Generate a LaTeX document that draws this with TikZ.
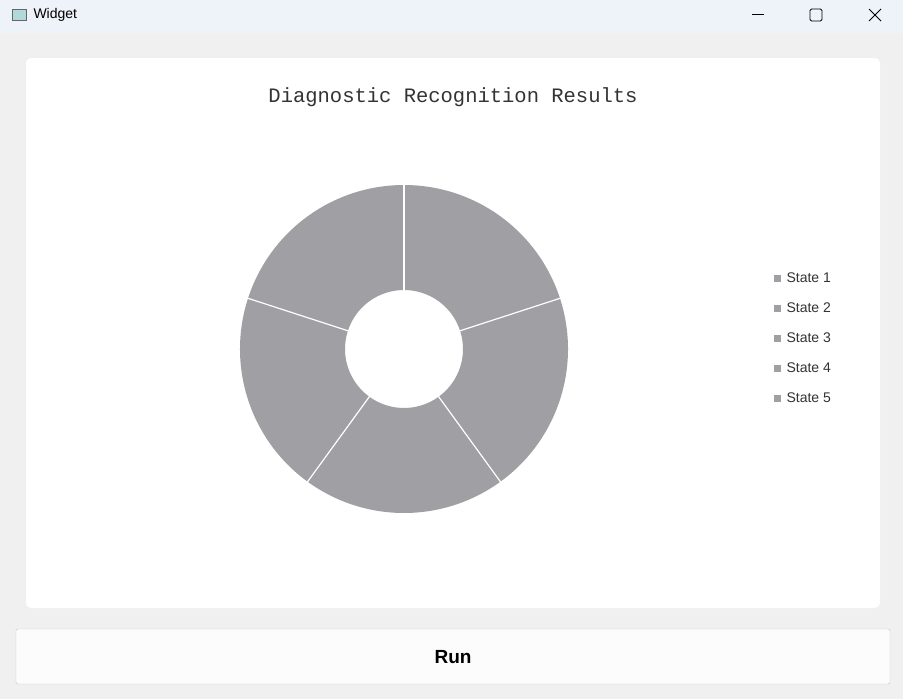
\documentclass[tikz,border=0pt]{standalone}
\usepackage{fontspec}
\setmainfont{Liberation Sans}
\newfontfamily\titlefont{Liberation Mono}
\begin{document}
\begin{tikzpicture}[x=1pt,y=-1pt,
  slice/.style={fill=pieg,draw=white,line width=1.2pt},
  leg/.style={fill=pieg,minimum size=7pt,inner sep=0pt},
  legtxt/.style={anchor=west,font=\fontsize{14}{16}\selectfont,text=black!80}]
\definecolor{pieg}{HTML}{A09FA3}
\definecolor{winbg}{HTML}{F0F0F0}
\definecolor{tbar}{HTML}{EEF2F9}
\useasboundingbox (0,0) rectangle (903,699);
\fill[winbg] (0,0) rectangle (903,699);
\fill[tbar] (0,0) rectangle (903,33);
\node[draw=black!60,fill=teal!30,minimum width=14pt,minimum height=11pt,inner sep=0pt] (icon) at (19,15) {};
\node[anchor=west,font=\fontsize{14}{16}\selectfont] (wt) at (30,15) {Widget};
\draw[line width=0.8pt] (752,14) -- (764,14);
\draw[line width=0.8pt,rounded corners=1.5pt] (810,9) rectangle (822,21);
\draw[line width=0.8pt] (869,9) -- (881,21) (869,21) -- (881,9);
\fill[white,rounded corners=5pt] (26,58) rectangle (880,608);
\node[font=\titlefont\fontsize{20.5}{24}\selectfont,text=black!80] (title) at (453,97) {Diagnostic Recognition Results};
\coordinate (c) at (404,349);
\foreach \a/\b in {90/18,18/-54,-54/-126,-126/-198,-198/-270}{
  \fill[pieg] ([shift={(\a:164 and -164)}]c) arc[start angle=\a,end angle=\b,x radius=164,y radius=-164]
    -- ([shift={(\b:59 and -59)}]c) arc[start angle=\b,end angle=\a,x radius=59,y radius=-59] -- cycle;
}
\foreach \a in {90,18,-54,-126,162}{
  \draw[white,line width=1.2pt] ([shift={(\a:58 and -58)}]c) -- ([shift={(\a:165 and -165)}]c);
}
\foreach \i in {1,...,5}{
  \node[leg] (l\i) at (777,{278+30*(\i-1)}) {};
  \node[legtxt] (t\i) at (783,{278+30*(\i-1)}) {State \i};
}
\draw[fill=white!99!black,draw=black!22,rounded corners=2pt] (16,629) rectangle (890,684);
\node[font=\bfseries\fontsize{19}{22}\selectfont] (run) at (453,657) {Run};
\end{tikzpicture}
\end{document}
